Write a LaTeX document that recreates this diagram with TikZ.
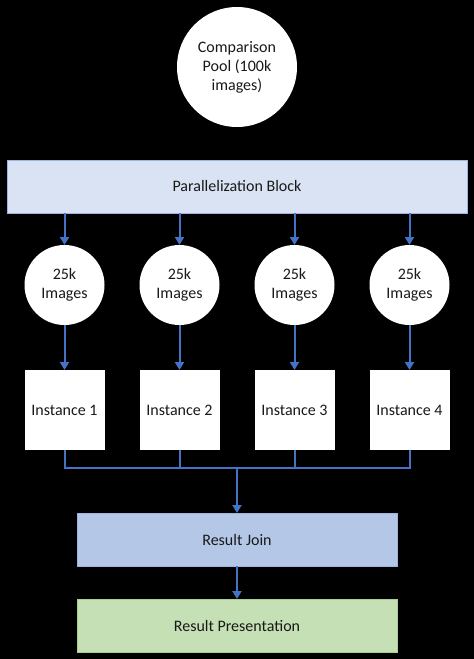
\documentclass[tikz,border=0pt]{standalone}
\usepackage{fontspec}
\setmainfont{Carlito}
\usepackage{xcolor}
\usetikzlibrary{shapes,arrows.meta,positioning,calc}

\definecolor{flowblue}{HTML}{4472C4}
\definecolor{parfill}{HTML}{DAE3F3}
\definecolor{parline}{HTML}{9DB3E0}
\definecolor{joinfill}{HTML}{B4C7E7}
\definecolor{presfill}{HTML}{C5E0B4}
\definecolor{presline}{HTML}{A9D18E}

\tikzset{
    flow/.style={draw=flowblue, line width=2pt, -{Triangle[length=8pt,width=9pt]}},
    joinline/.style={draw=flowblue, line width=2pt},
    pool/.style={circle, fill=white, minimum size=120pt, inner sep=0pt, outer sep=0pt, align=center},
    share/.style={circle, fill=white, minimum size=80pt, inner sep=0pt, outer sep=0pt, align=center},
    instbox/.style={rectangle, fill=white, minimum width=80pt, minimum height=80pt, outer sep=0pt},
    stagebox/.style={rectangle, draw, line width=1pt, minimum height=53pt, outer sep=0pt}
}

\begin{document}
\begin{tikzpicture}[font=\fontsize{16pt}{19pt}\selectfont, text=black!90]
    \fill[black] (0pt,0pt) rectangle (474pt,-659pt);
    \useasboundingbox (0pt,0pt) rectangle (474pt,-659pt);

    \node (pool) [pool] at (237pt,-67pt) {Comparison\\Pool (100k\\images)};
    \node (par) [stagebox, below=33pt of pool, minimum width=460pt, fill=parfill, draw=parline] {Parallelization Block};

    \foreach \i/\dx in {1/-172.5pt, 2/-57.5pt, 3/57.5pt, 4/172.5pt} {
        \node (img\i) [share, below=32pt of par.south, xshift=\dx] {25k\\Images};
        \node (inst\i) [instbox, below=45pt of img\i] {Instance \i};
        \draw [flow] (par.south -| img\i.north) -- (img\i.north);
        \draw [flow] (img\i) -- (inst\i);
    }

    \node (join) [stagebox, below=300pt of par, minimum width=320pt, fill=joinfill, draw=parline] {Result Join};
    \node (pres) [stagebox, below=33pt of join, minimum width=320pt, fill=presfill, draw=presline] {Result Presentation};
    \coordinate [above=45pt of join.north] (merge);

    \foreach \i in {1,...,4}
        \draw [joinline] (inst\i.south) |- (merge);
    \draw [flow] (merge) -- (join);
    \draw [flow] (join) -- (pres);
\end{tikzpicture}
\end{document}
